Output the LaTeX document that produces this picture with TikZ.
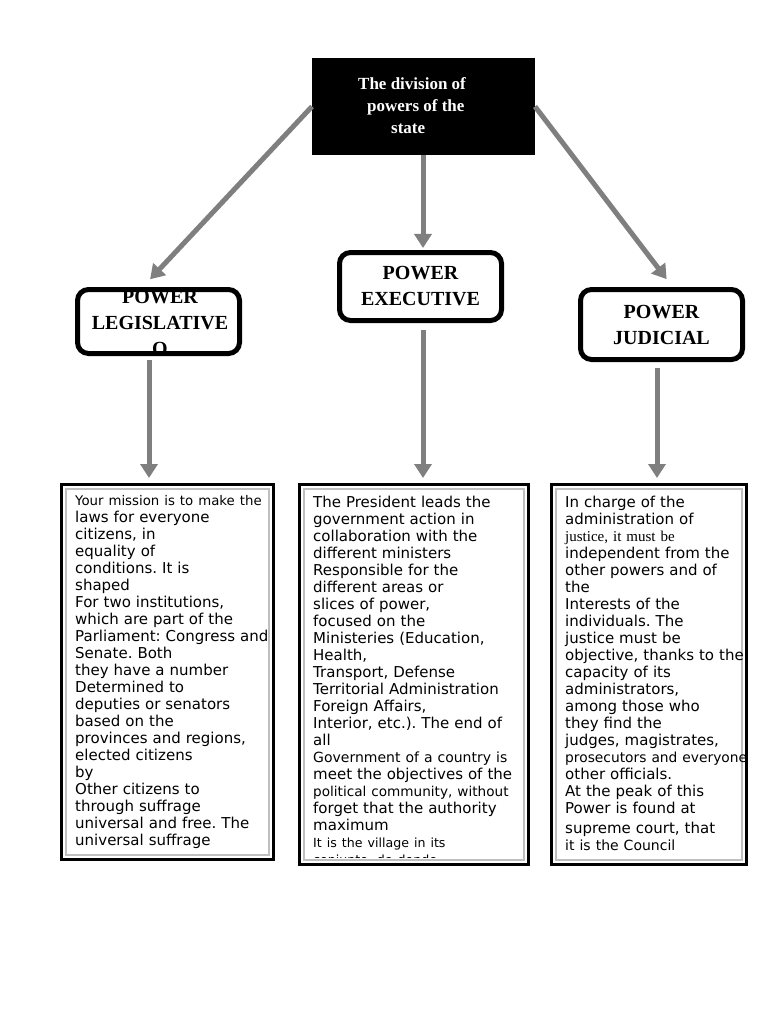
\documentclass[tikz,border=0pt]{standalone}
\usepackage{fontspec}
\setmainfont{Liberation Serif}
\newfontfamily\bodyfont{DejaVu Sans}
\usepackage{xcolor}
\usepackage{tikz}
\usetikzlibrary{arrows.meta,positioning}
\frenchspacing

\definecolor{linkgray}{HTML}{7F7F7F}
\definecolor{innergray}{HTML}{BFBFBF}

\begin{document}
\begin{tikzpicture}[x=1pt, y=-1pt,
		link/.style={draw=linkgray, line width=5pt, -{Triangle[width=17pt,length=14pt]}},
		powerbox/.style={draw, line width=5pt, rounded corners=11pt, fill=white, outer sep=0pt,
			minimum width=162pt, inner sep=0pt, align=center, font=\fontsize{20}{26}\selectfont\bfseries},
		textbox/.style={draw, line width=3pt, fill=white, outer sep=0pt, inner sep=0pt},
		innerframe/.style={draw=innergray, line width=1.5pt},
		bodytext/.style={anchor=base west, inner sep=0pt, align=left, text width=240pt,
			font=\bodyfont\fontsize{15}{17}\selectfont}]
	\fill[white] (0,0) rectangle (768,1024);
	\useasboundingbox (0,0) rectangle (768,1024);
	
	% Top box
	\node[fill=black, minimum width=223pt, minimum height=97pt, outer sep=0pt] (top) at (423.5,106.5) {};
	\node[text=white, anchor=west, inner sep=0pt, align=left, font=\fontsize{17}{22}\selectfont\bfseries] (toptitle) at (358,105.5)
		{The division of\\\hspace*{9pt}powers of the\\\hspace*{33pt}state};
	
	% The three powers
	\node[powerbox, draw=none, minimum height=64pt] (leg) at (158.5,321.5) {};
	\node[align=center, font=\fontsize{20}{26}\selectfont\bfseries] (legtitle) at (160,322.5)
		{POWER\\LEGISLATIVE\\O};
	\draw[line width=5pt, rounded corners=11pt] (leg.north west) rectangle (leg.south east);
	\node[powerbox, minimum height=68pt] (exec) at (420.5,286.5) {POWER\\EXECUTIVE};
	\node[powerbox, minimum height=70pt] (jud) at (661.5,324.5) {POWER\\JUDICIAL};
	
	% Arrows from the top
	\draw[link, shorten >=14pt] (top.west) -- ([xshift=-18pt]leg.north);
	\draw[link, shorten >=4.5pt] ([xshift=-0.5pt]top.south) -- ([xshift=-0.5pt]top.south |- exec.north);
	\draw[link, shorten >=13pt] (top.east) -- ([xshift=13pt]jud.north);
	
	% Text boxes
	\node[textbox, minimum width=212pt, minimum height=375pt] (legbox) at (167.5,672) {};
	\node[textbox, minimum width=229pt, minimum height=380pt] (execbox) at (414,674.5) {};
	\node[textbox, minimum width=195pt, minimum height=380pt] (judbox) at (649,674.5) {};
	\draw[innerframe] ([shift={(4.5,4.5)}]legbox.north west) rectangle ([shift={(-4.5,-4.5)}]legbox.south east);
	\draw[innerframe] ([shift={(4.5,4.5)}]execbox.north west) rectangle ([shift={(-4.5,-4.5)}]execbox.south east);
	\draw[innerframe] ([shift={(4.5,4.5)}]judbox.north west) rectangle ([shift={(-4.5,-4.5)}]judbox.south east);
	
	% Arrows down to the text boxes
	\draw[link, shorten <=6pt, shorten >=6.5pt] ([xshift=-9.5pt]leg.south) -- ([xshift=-9.5pt]leg.south |- legbox.north);
	\draw[link, shorten <=9.5pt, shorten >=6.5pt] ([xshift=2.5pt]exec.south) -- ([xshift=2.5pt]exec.south |- execbox.north);
	\draw[link, shorten <=8.5pt, shorten >=6.5pt] ([xshift=-4.5pt]jud.south) -- ([xshift=-4.5pt]jud.south |- judbox.north);
	
	% Texts
	\node[bodytext] (legtext) at (75,505) {{\fontsize{13.3}{17}\selectfont Your mission is to make the}\\
		laws for everyone\\
		citizens, in\\
		equality of\\
		conditions. It is\\
		shaped\\
		For two institutions,\\
		which are part of the\\
		Parliament: Congress and\\
		Senate. Both\\
		they have a number\\
		Determined to\\
		deputies or senators\\
		based on the\\
		provinces and regions,\\
		elected citizens\\
		by\\
		Other citizens to\\
		through suffrage\\
		universal and free. The\\
		universal suffrage};
	
	\begin{scope}
		\clip ([shift={(4.5,4.5)}]execbox.north west) rectangle ([shift={(-4.5,-7)}]execbox.south east);
		\node[bodytext] (exectext) at (313,507) {The President leads the\\
			government action in\\
			collaboration with the\\
			different ministers\\
			Responsible for the\\
			different areas or\\
			slices of power,\\
			focused on the\\
			Ministeries (Education,\\
			Health,\\
			Transport, Defense\\
			Territorial Administration\\
			Foreign Affairs,\\
			Interior, etc.). The end of\\
			all\\
			{\fontsize{14}{17}\selectfont Government of a country is}\\
			meet the objectives of the\\
			{\fontsize{13.6}{17}\selectfont political community, without}\\
			forget that the authority\\
			maximum\\
			{\fontsize{12.6}{17}\selectfont It is the village in its}\\
			{\fontsize{12.6}{17}\selectfont conjunto, de donde}};
	\end{scope}
	
	\node[bodytext] (judtext) at (565,507) {In charge of the\\
		administration of\\
		{\rmfamily\fontsize{15}{17}\selectfont justice, it must be}\\
		independent from the\\
		other powers and of\\
		the\\
		Interests of the\\
		individuals. The\\
		justice must be\\
		objective, thanks to the\\
		capacity of its\\
		administrators,\\
		among those who\\
		they find the\\
		judges, magistrates,\\
		{\fontsize{13.8}{17}\selectfont prosecutors and everyone}\\
		other officials.\\
		At the peak of this\\
		Power is found at\\[3pt]
		supreme court, that\\
		{\fontsize{14}{17}\selectfont it is the Council}};
\end{tikzpicture}
\end{document}
